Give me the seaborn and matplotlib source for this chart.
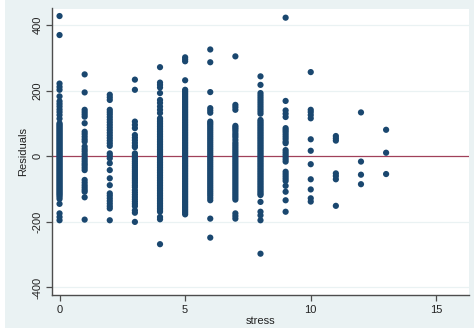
import matplotlib
matplotlib.use("Agg")
import matplotlib.pyplot as plt
import seaborn as sns
import pandas as pd
from matplotlib.patches import Rectangle

# ---- data ----
stress_levels = [0, 1, 2, 3, 4, 5, 6, 7, 8, 9, 10, 11, 12, 13]

res_0 = [428, 370, 222, 212, 203, 183, 168, 160, 152, 143, 135, 126, 115,
         101, 97, 93, 89, 85, 81, 77, 73, 69, 65, 61, 57, 53, 49, 45, 41, 37,
         33, 29, 25, 21, 17, 13, 9, 5, 1, -3, -7, -11, -15, -19, -23, -27, -31,
         -35, -39, -43, -47, -51, -55, -59, -63, -67, -71, -75, -79, -83, -87,
         -91, -95, -99, -103, -107, -111, -115, -119, -124, -130, -145, -174,
         -185, -195]
res_1 = [250, 195, 142, 135, 128, 121, 101, 75, 68, 60, 52, 45, 30, 22, 15, 7,
         0, -8, -15, -22, -28, -35, -42, -72, -80, -88, -95, -102, -108, -125,
         -193]
res_2 = [188, 180, 172, 142, 135, 128, 120, 112, 104, 96, 88, 80, 72, 64, 56,
         48, 40, 32, 9, 2, -6, -21, -42, -67, -88, -113, -120, -128, -136, -144,
         -152, -159, -195]
res_3 = [234, 203, 106, 96, 86, 65, 57, 49, 41, 33, 28, 9, 3, -3, -9, -15, -21,
         -27, -33, -39, -45, -51, -57, -63, -69, -75, -81, -88, -94, -103, -110,
         -117, -124, -131, -138, -145, -152, -165, -172, -200]
res_4 = [272, 225, 218, 210, 193, 172, 163, 152, 142, 132, 116, 111, 106, 101,
         96, 91, 86, 81, 76, 71, 66, 61, 56, 51, 46, 41, 36, 31, 26, 21, 16, 11,
         6, 1, -4, -9, -14, -19, -24, -29, -34, -39, -44, -49, -54, -59, -64,
         -69, -74, -79, -84, -89, -94, -99, -104, -109, -114, -119, -124, -129,
         -134, -139, -144, -149, -154, -159, -164, -169, -185, -192, -268]
res_5 = [302, 296, 290, 232, 203, 198, 193, 188, 183, 178, 173, 168, 163, 158,
         153, 148, 143, 138, 133, 128, 123, 118, 113, 108, 103, 98, 93, 88, 83,
         78, 73, 68, 63, 58, 53, 48, 43, 38, 33, 28, 23, 18, 13, 8, 3, -2, -7,
         -12, -17, -22, -27, -32, -37, -42, -47, -52, -57, -62, -67, -72, -77,
         -82, -87, -92, -97, -102, -107, -112, -117, -122, -127, -132, -137,
         -142, -147, -152, -157, -162, -167, -172, -177]
res_6 = [326, 287, 196, 147, 140, 133, 106, 101, 96, 90, 84, 78, 72, 66, 60,
         54, 48, 42, 36, 30, 24, 18, 12, 6, 0, -6, -12, -18, -24, -30, -36, -42,
         -48, -54, -60, -66, -72, -78, -84, -90, -96, -102, -108, -114, -120,
         -127, -134, -190, -248]
res_7 = [305, 157, 150, 142, 93, 88, 83, 77, 70, 64, 58, 50, 42, 36, 30, 24,
         18, 12, 6, 0, -6, -12, -18, -24, -30, -36, -42, -48, -54, -60, -66,
         -72, -78, -84, -90, -96, -102, -108, -114, -120, -126, -132, -174,
         -182, -190]
res_8 = [244, 218, 193, 186, 179, 172, 165, 158, 151, 144, 137, 130, 111, 106,
         101, 96, 91, 86, 81, 76, 71, 66, 61, 56, 51, 46, 41, 36, 31, 26, 21,
         16, 11, 6, 1, -4, -9, -14, -19, -24, -29, -34, -39, -44, -49, -54, -59,
         -64, -69, -74, -79, -84, -89, -94, -99, -104, -109, -114, -118, -139,
         -169, -180, -195, -297]
res_9 = [423, 169, 140, 130, 120, 86, 80, 74, 67, 60, 53, 45, 40, 19, 12, 5,
         -2, -9, -16, -47, -54, -61, -68, -75, -90, -108, -134, -169]
res_10 = [257, 142, 135, 126, 116, 52, 17, -24, -70, -101, -128, -138]
res_11 = [62, 55, 48, -52, -60, -70, -151]
res_12 = [134, -16, -56, -85]
res_13 = [81, 11, -54]

y_ticks = [-400, -200, 0, 200, 400]
x_ticks = [0, 5, 10, 15]

residual_lists = [res_0, res_1, res_2, res_3, res_4, res_5, res_6, res_7,
                  res_8, res_9, res_10, res_11, res_12, res_13]
rows = []
for s, vals in zip(stress_levels, residual_lists):
    for v in vals:
        rows.append((s, v))
df = pd.DataFrame(rows, columns=["stress", "Residuals"])

# ---- style ----
sns.set_style("white")
plt.rcParams["font.family"] = ["Liberation Sans", "DejaVu Sans"]

W, H = 474, 330
fig = plt.figure(figsize=(W / 100, H / 100), dpi=100)
fig.patch.set_facecolor("white")
bg = Rectangle((5 / W, 2 / H), 1 - 5 / W, 1 - 2 / H,
               transform=fig.transFigure, facecolor="#eaf2f3",
               edgecolor="none", zorder=-10)
fig.patches.append(bg)

ax = fig.add_axes([52 / W, (H - 295) / H, (469 - 52) / W, (295 - 8.5) / H])
ax.set_zorder(1)
ax.set_facecolor("white")

for t in y_ticks:
    if t != 0:
        ax.axhline(t, color="#eaf2f3", lw=0.9, zorder=0)

ax.axhline(0, color="#a0405a", lw=0.9, zorder=1)

sns.scatterplot(data=df, x="stress", y="Residuals", ax=ax, color="#1a476f",
                s=20, linewidth=0, edgecolor="none", zorder=2, legend=False)

ax.set_xlim(-0.3, 16.3)
ax.set_ylim(-423, 451)
ax.set_xticks(x_ticks)
ax.set_yticks(y_ticks)
ax.set_yticklabels([str(t) for t in y_ticks], rotation=90, va="center")

for side in ["top", "right"]:
    ax.spines[side].set_visible(False)
for side in ["left", "bottom"]:
    ax.spines[side].set_color("#4d4d4d")
    ax.spines[side].set_linewidth(1.0)

ax.tick_params(axis="both", direction="out", length=4, width=0.9,
               color="#4d4d4d", labelsize=8, labelcolor="#222222", pad=3,
               left=True, bottom=True)
ax.set_xlabel("stress", fontsize=8, color="#222222", labelpad=1)
ax.set_ylabel("Residuals", fontsize=8, color="#222222", labelpad=3)

fig.savefig("out.png", dpi=100, facecolor=fig.get_facecolor())
